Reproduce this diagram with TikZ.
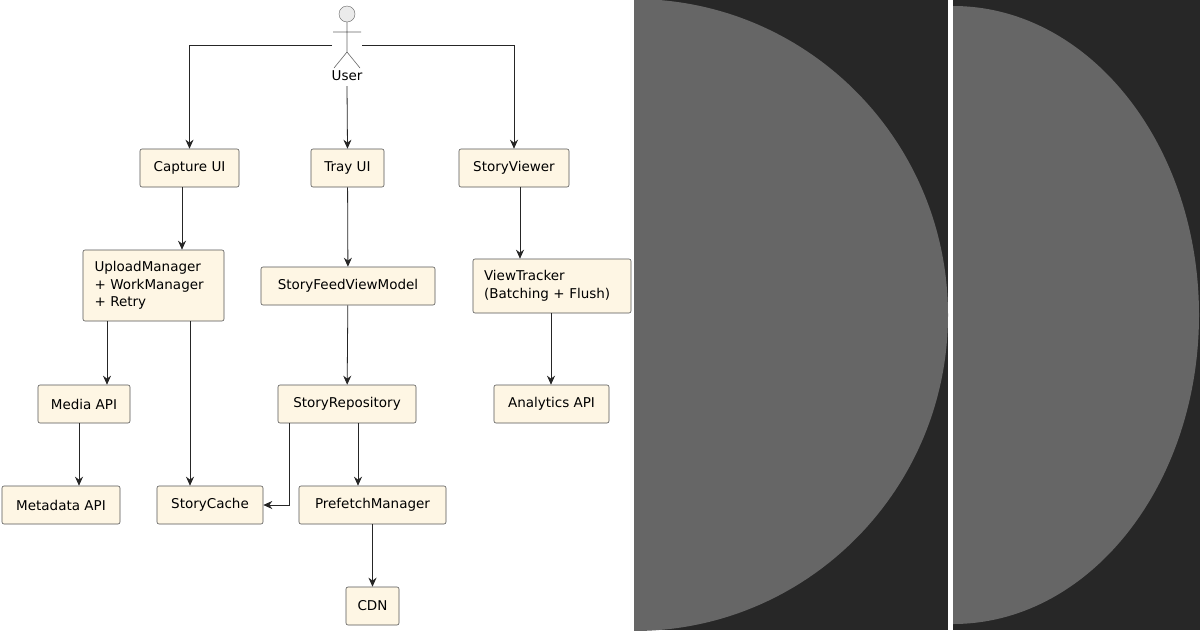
\documentclass[tikz,border=0pt]{standalone}
\usepackage{fontspec}
\setmainfont{DejaVu Sans}
\usetikzlibrary{arrows.meta}
\definecolor{boxfill}{HTML}{FEF6E4}
\definecolor{boxline}{HTML}{555555}
\definecolor{panel}{HTML}{272727}
\definecolor{disc}{HTML}{666666}
\begin{document}
\begin{tikzpicture}[x=1pt,y=-1pt,
  box/.style={draw=boxline,fill=boxfill,rounded corners=2pt,line width=0.6pt,inner sep=0pt,font=\fontsize{13.5}{17.5}\selectfont},
  arr/.style={-{Stealth[length=9pt,width=8pt]},line width=0.8pt,black!85}]
\useasboundingbox (0,0) rectangle (1200,630);
\fill[white] (0,0) rectangle (1200,630);
% actor
\node[circle,draw=black!60,fill=black!8,minimum size=16pt,inner sep=0pt] (head) at (347,14) {};
\coordinate (neck) at (347,22);
\coordinate (hip) at (347,52);
\draw[black!60,line width=0.6pt] (neck) -- (hip) (333,32) -- (361,32) (hip) -- (334,68) (hip) -- (360,68);
\node[font=\fontsize{13.5}{15}\selectfont] (user) at (347,76) {User};
\coordinate (uL) at (332,45);
\coordinate (uR) at (362,45);
\coordinate (uB) at (347,86);
% boxes
\node[box,minimum width=99pt,minimum height=38pt] (cap) at (189.5,168) {Capture UI};
\node[box,minimum width=73pt,minimum height=38pt] (tray) at (347.5,168) {Tray UI};
\node[box,minimum width=110pt,minimum height=38pt] (sv) at (514,168) {StoryViewer};
\node[box,minimum width=141pt,minimum height=71pt,align=left,text width=118pt] (up) at (153.5,285.5) {UploadManager\\+ WorkManager\\+ Retry};
\node[box,minimum width=174pt,minimum height=38pt] (sfvm) at (348,286) {StoryFeedViewModel};
\node[box,minimum width=158pt,minimum height=54pt,align=left,text width=136pt] (vt) at (552,286) {ViewTracker\\(Batching + Flush)};
\node[box,minimum width=92pt,minimum height=38pt] (media) at (84,404) {Media API};
\node[box,minimum width=138pt,minimum height=38pt] (repo) at (347,404) {StoryRepository};
\node[box,minimum width=115pt,minimum height=38pt] (ana) at (551.5,404) {Analytics API};
\node[box,minimum width=118pt,minimum height=38pt] (meta) at (61,505) {Metadata API};
\node[box,minimum width=106pt,minimum height=38pt] (cache) at (210,505) {StoryCache};
\node[box,minimum width=147pt,minimum height=38pt] (pref) at (372.5,505) {PrefetchManager};
\node[box,minimum width=53pt,minimum height=38pt] (cdn) at (372.5,606) {CDN};
% edges
\draw[arr] (uL) -| (cap.north);
\draw[arr] (uR) -| (sv.north);
\draw[arr] (uB) -- (tray.north);
\draw[arr] (cap.south -| 182,0) -- (up.north -| 182,0);
\draw[arr] (tray) -- (sfvm);
\draw[arr] (sfvm) -- (repo);
\draw[arr] (sv.south -| 520,0) -- (vt.north -| 520,0);
\draw[arr] (vt.south -| 551,0) -- (ana.north -| 551,0);
\draw[arr] (up.south -| 107,0) -- (media.north -| 107,0);
\draw[arr] (up.south -| 190,0) -- (cache.north -| 190,0);
\draw[arr] (media.south -| 79,0) -- (meta.north -| 79,0);
\draw[arr] (repo.south -| 289,0) |- (cache.east);
\draw[arr] (repo.south -| 358,0) -- (pref.north -| 358,0);
\draw[arr] (pref) -- (cdn);
% right panels
\fill[white] (632,0) rectangle (634,630);
\fill[panel] (634,0) rectangle (1200,630);
\fill[white] (948,0) rectangle (953,630);
\begin{scope}
\clip (634,0) rectangle (948,630);
\fill[disc] (634,315) ellipse [x radius=314, y radius=316];
\end{scope}
\begin{scope}
\clip (953,0) rectangle (1200,630);
\fill[disc] (953,315) ellipse [x radius=246, y radius=309];
\end{scope}
\end{tikzpicture}
\end{document}
